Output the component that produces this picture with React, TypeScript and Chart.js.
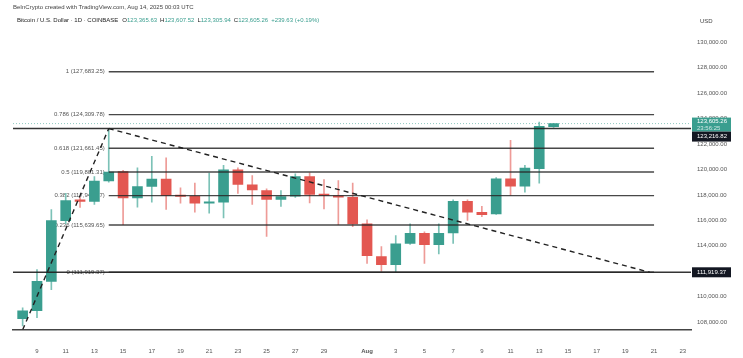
import React, { useEffect, useRef } from 'react';
import { Chart, registerables } from 'chart.js';

Chart.register(...registerables);

// ---- data (day index 0 = Jul 8, 2025) ----
const dates = [
  'Jul 8', 'Jul 9', 'Jul 10', 'Jul 11', 'Jul 12', 'Jul 13', 'Jul 14', 'Jul 15', 'Jul 16', 'Jul 17',
  'Jul 18', 'Jul 19', 'Jul 20', 'Jul 21', 'Jul 22', 'Jul 23', 'Jul 24', 'Jul 25', 'Jul 26', 'Jul 27',
  'Jul 28', 'Jul 29', 'Jul 30', 'Jul 31', 'Aug 1', 'Aug 2', 'Aug 3', 'Aug 4', 'Aug 5', 'Aug 6',
  'Aug 7', 'Aug 8', 'Aug 9', 'Aug 10', 'Aug 11', 'Aug 12', 'Aug 13', 'Aug 14',
];
const openVals = [
  108268, 108898, 111205, 115984, 117614, 117480, 119090, 119842, 117772, 118661,
  119236, 117953, 117898, 117347, 117425, 119977, 118795, 118346, 117638, 117900,
  119449, 118050, 117929, 117819, 115725, 113150, 112520, 114197, 114984, 114094,
  115016, 117504, 116638, 116500, 119268, 118685, 120056, 123365.63,
];
const highVals = [
  109134, 112126, 116850, 118133, 117795, 119449, 123216.82, 119940, 120134, 121024,
  120921, 118559, 118921, 119709, 120315, 120134, 119528, 118480, 118346, 119661,
  119740, 119213, 119134, 118921, 116039, 113937, 114803, 115725, 115100, 115725,
  117614, 117614, 117100, 119370, 122283, 120315, 123724, 123607.52,
];
const lowVals = [
  107700, 108346, 110551, 115748, 117008, 117244, 119000, 115669, 117032, 117425,
  116851, 117347, 116638, 116559, 116197, 118110, 117244, 114748, 117087, 117800,
  117378, 116906, 115669, 115500, 112622, 111992, 111968, 114100, 112622, 113362,
  114197, 116000, 116300, 116460, 117953, 118213, 118921, 123305.94,
];
const closeVals = [
  108898, 111205, 115984, 117559, 117480, 119079, 119787, 117772, 118661, 119236,
  117953, 117874, 117347, 117457, 119977, 118819, 118402, 117638, 117874, 119449,
  118032, 117953, 117819, 115725, 113228, 112520, 114150, 114984, 114094, 114984,
  117504, 116638, 116450, 119268, 118685, 120103, 123386, 123605.26,
];

const fibLabels = ['0', '0.236', '0.382', '0.5', '0.618', '0.786', '1'];
const fibValues = [111919.37, 115639.65, 117941.17, 119801.31, 121661.45, 124309.78, 127683.25];
const fibStartDay = 6;
const fibEndDay = 44;

const athPrice = 123216.82;
const lastPrice = 123605.26;
const countdown = '23:56:25';
const trendUpDays = [0, 6];
const trendUpPrices = [107400, 123216.82];
const trendDownDays = [6, 43.7];
const trendDownPrices = [123216.82, 111919.37];

const yTickValues = [108000, 110000, 112000, 114000, 116000, 118000, 120000, 122000, 124000, 126000, 128000, 130000];
const xTickDays = [1, 3, 5, 7, 9, 11, 13, 15, 17, 19, 21, 24, 26, 28, 30, 32, 34, 36, 38, 40, 42, 44, 46];
const xTickLabels = ['9', '11', '13', '15', '17', '19', '21', '23', '25', '27', '29', 'Aug', '3', '5', '7', '9', '11', '13', '15', '17', '19', '21', '23'];

// ---- styling ----
const FONT = '"Liberation Sans", Arial, sans-serif';
const GREEN = '#3a9e8f';
const RED = '#e35751';
const GREEN_WICK = '#7cc2b7';
const RED_WICK = '#ee9b97';
const X_MIN = -0.672;
const X_MAX = 46.575;
const Y_MIN = 107424;
const Y_MAX = 132216;

const fmt = (v: number) =>
  v.toLocaleString('en-US', { minimumFractionDigits: 2, maximumFractionDigits: 2 });

const overlayPlugin = {
  id: 'overlay',
  beforeDatasetsDraw(chart: any) {
    const { ctx, scales } = chart;
    const x0 = scales.x.getPixelForValue(fibStartDay);
    ctx.save();
    ctx.font = `6px ${FONT}`;
    ctx.fillStyle = '#555';
    ctx.textAlign = 'right';
    ctx.textBaseline = 'middle';
    fibLabels.forEach((l, i) => {
      const y = scales.y.getPixelForValue(fibValues[i]);
      ctx.fillText(`${l} (${fmt(fibValues[i])})`, x0 - 4, y);
    });
    ctx.restore();
  },
  afterDraw(chart: any) {
    const { ctx, scales, chartArea } = chart;
    const bx = chartArea.right + 1;
    const bw = 39;
    ctx.save();
    ctx.textAlign = 'left';
    ctx.textBaseline = 'middle';
    // last price box
    const yl = scales.y.getPixelForValue(lastPrice);
    const tTop = yl - 6;
    ctx.fillStyle = GREEN;
    ctx.fillRect(bx, tTop, bw, 14);
    ctx.fillStyle = '#fff';
    ctx.font = `6px ${FONT}`;
    ctx.fillText(fmt(lastPrice), bx + 5, tTop + 4);
    ctx.fillStyle = 'rgba(255,255,255,0.75)';
    ctx.fillText(countdown, bx + 5, tTop + 10.5);
    // ATH box
    ctx.fillStyle = '#131722';
    ctx.fillRect(bx, tTop + 14, bw, 10);
    ctx.fillStyle = '#fff';
    ctx.fillText(fmt(athPrice), bx + 5, tTop + 19);
    // fib 0 box
    const y0 = scales.y.getPixelForValue(fibValues[0]);
    ctx.fillStyle = '#131722';
    ctx.fillRect(bx, y0 - 5, bw, 10);
    ctx.fillStyle = '#fff';
    ctx.fillText(fmt(fibValues[0]), bx + 5, y0);
    ctx.restore();
  },
};

function line(days: number[], prices: number[], color: string, width: number, dash: number[], order: number) {
  return {
    type: 'line' as const,
    data: days.map((d, i) => ({ x: d, y: prices[i] })),
    borderColor: color,
    borderWidth: width,
    borderDash: dash,
    pointRadius: 0,
    fill: false,
    order,
  };
}

export default function App() {
  const ref = useRef<HTMLCanvasElement>(null);

  useEffect(() => {
    document.body.style.margin = '0';
    const up = closeVals.map((c, i) => c >= openVals[i]);
    const datasets: any[] = [];
    datasets.push(line(trendUpDays, trendUpPrices, '#222', 1.4, [5, 4], 0));
    datasets.push(line(trendDownDays, trendDownPrices, '#222', 1.4, [5, 4], 0));
    fibValues.forEach((v) => {
      datasets.push(line([fibStartDay, fibEndDay], [v, v], 'rgba(40,40,40,0.85)', 1.4, [], 1));
    });
    datasets.push(line([X_MIN, X_MAX], [athPrice, athPrice], 'rgba(30,30,30,0.9)', 1.4, [], 1));
    datasets.push(line([X_MIN, X_MAX], [fibValues[0], fibValues[0]], 'rgba(30,30,30,0.9)', 1.4, [], 1));
    datasets.push(line([X_MIN, X_MAX], [lastPrice, lastPrice], 'rgba(58,158,143,0.55)', 1, [1, 2], 1));
    datasets.push({
      type: 'bar',
      data: dates.map((_, i) => ({ x: i, y: [openVals[i], closeVals[i]] })),
      backgroundColor: up.map((u) => (u ? GREEN : RED)),
      barThickness: 10,
      minBarLength: 1.5,
      grouped: false,
      borderWidth: 0,
      order: 2,
    });
    datasets.push({
      type: 'bar',
      data: dates.map((_, i) => ({ x: i, y: [lowVals[i], highVals[i]] })),
      backgroundColor: up.map((u) => (u ? GREEN_WICK : RED_WICK)),
      barThickness: 1,
      grouped: false,
      borderWidth: 0,
      order: 3,
    });

    const chart = new Chart(ref.current as HTMLCanvasElement, {
      type: 'bar',
      data: { datasets },
      plugins: [overlayPlugin],
      options: {
        responsive: false,
        animation: false,
        devicePixelRatio: 1,
        events: [],
        layout: { padding: { left: 13, top: 14, right: 0, bottom: 0 } },
        plugins: { legend: { display: false }, tooltip: { enabled: false } },
        scales: {
          x: {
            type: 'linear',
            min: X_MIN,
            max: X_MAX,
            offset: false,
            grid: { display: false, drawTicks: false },
            border: { display: true, color: '#444', width: 1.4 },
            afterBuildTicks: (s: any) => {
              s.ticks = xTickDays.map((v) => ({ value: v }));
            },
            afterFit: (s: any) => {
              s.height = 28.5;
            },
            ticks: {
              autoSkip: false,
              maxRotation: 0,
              padding: 18,
              color: '#555',
              font: (c: any) => ({
                family: FONT,
                size: 6,
                weight: c.tick && c.tick.value === 24 ? 'bold' : 'normal',
              }),
              callback: (v: any) => {
                const i = xTickDays.indexOf(Number(v));
                return i >= 0 ? xTickLabels[i] : '';
              },
            },
          },
          y: {
            type: 'linear',
            position: 'right',
            min: Y_MIN,
            max: Y_MAX,
            grid: { display: false, drawTicks: false },
            border: { display: false },
            afterBuildTicks: (s: any) => {
              s.ticks = yTickValues.map((v) => ({ value: v }));
            },
            afterFit: (s: any) => {
              s.width = 52;
            },
            ticks: {
              padding: 6,
              color: '#555',
              font: { family: FONT, size: 6 },
              callback: (v: any) => fmt(Number(v)),
            },
          },
        },
      } as any,
    });
    return () => chart.destroy();
  }, []);

  const teal = '#3a9e8f';
  const txt: React.CSSProperties = {
    position: 'absolute',
    fontSize: 6,
    lineHeight: '8px',
    whiteSpace: 'nowrap',
    fontFamily: FONT,
  };

  return (
    <div style={{ position: 'relative', width: 743, height: 358, background: '#fff', overflow: 'hidden' }}>
      <canvas ref={ref} width={743} height={358} style={{ position: 'absolute', left: 0, top: 0, width: 743, height: 358 }} />
      <div style={{ ...txt, left: 13, top: 3, color: '#444' }}>
        BeInCrypto created with TradingView.com, Aug 14, 2025 00:03 UTC
      </div>
      <div style={{ ...txt, left: 17, top: 16, color: '#222' }}>
        <span>Bitcoin / U.S. Dollar · 1D · COINBASE</span>
        <span style={{ marginLeft: 4 }}>O</span><span style={{ color: teal }}>123,365.63</span>
        <span style={{ marginLeft: 3 }}>H</span><span style={{ color: teal }}>123,607.52</span>
        <span style={{ marginLeft: 3 }}>L</span><span style={{ color: teal }}>123,305.94</span>
        <span style={{ marginLeft: 3 }}>C</span><span style={{ color: teal }}>123,605.26</span>
        <span style={{ marginLeft: 3, color: teal }}>+239.63 (+0.19%)</span>
      </div>
      <div style={{ ...txt, left: 700, top: 17, color: '#444' }}>USD</div>
    </div>
  );
}
